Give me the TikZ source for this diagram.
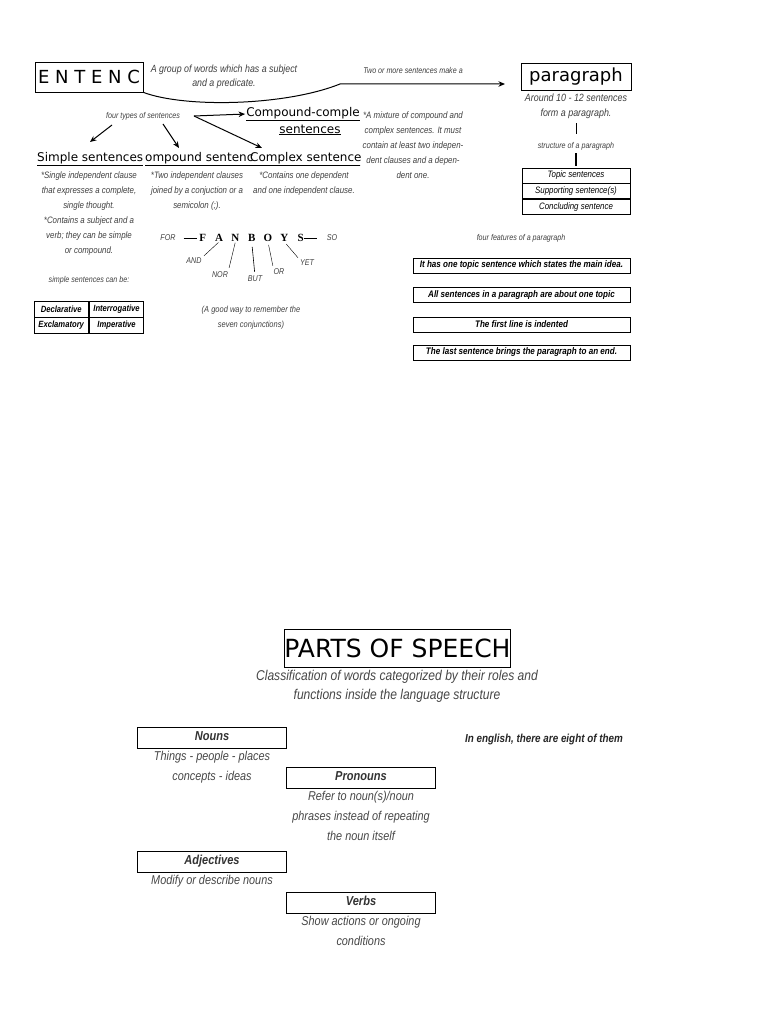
\documentclass[tikz,border=0pt]{standalone}
\usepackage{fontspec}
\setmainfont{Liberation Sans}
\newfontfamily\headfont{DejaVu Sans}
\newfontfamily\narrowfont[FakeStretch=0.85]{Liberation Sans}
\newfontfamily\fanfont{Liberation Serif}
\usetikzlibrary{positioning,arrows.meta}

\begin{document}
\begin{tikzpicture}[x=1pt,y=-1pt,
  every node/.style={inner sep=0pt},
  hbox/.style={draw,line width=.8pt},
  head/.style={font=\headfont\fontsize{18}{20}\selectfont},
  sub/.style={font=\headfont\fontsize{12}{16}\selectfont},
  note/.style={font=\narrowfont\itshape\fontsize{9.3}{15}\selectfont,text=black!75,align=center},
  tiny/.style={font=\narrowfont\itshape\fontsize{8.4}{9}\selectfont,text=black!75},
  cell/.style={draw,line width=.6pt,minimum width=108,minimum height=15,font=\narrowfont\itshape\fontsize{9.3}{10}\selectfont},
  kind/.style={draw,line width=.8pt,minimum width=54.5,minimum height=15.5,font=\narrowfont\bfseries\itshape\fontsize{9}{10}\selectfont},
  fan/.style={font=\fanfont\bfseries\fontsize{11}{10}\selectfont},
  feat/.style={draw,line width=.8pt,minimum width=217,minimum height=15,font=\narrowfont\bfseries\itshape\fontsize{9.5}{10}\selectfont},
  pbox/.style={draw,line width=.8pt,minimum width=149,minimum height=21,text depth=3pt,font=\narrowfont\bfseries\itshape\fontsize{13}{14}\selectfont,text=black!80},
  desc/.style={font=\narrowfont\itshape\fontsize{12.8}{20}\selectfont,text=black!72,align=center},
  arr/.style={-{Stealth[length=6.5pt,width=5.5pt]},line width=1pt}
]
\fill[white] (0,0) rectangle (768,1024);
\useasboundingbox (0,0) rectangle (768,1024);

% sentences and paragraph
\node[hbox,head,minimum width=108,minimum height=30] (sent) at (89,77) {E N T E N C};
\node[note,font=\narrowfont\itshape\fontsize{10.4}{14}\selectfont] (def) at (224,77) {A group of words which has a subject\\and a predicate.};
\node[tiny] (make) at (413,71) {Two or more sentences make a};
\node[hbox,head,minimum width=110,minimum height=27] (para) at (576,76.5) {paragraph};
\coordinate (paratip) at (505,84);
\draw[arr] (sent.south east) .. controls (185,108) and (285,106) .. (340,84) -- (paratip);

\node[note,font=\narrowfont\itshape\fontsize{10.5}{15}\selectfont] (around) at (576,106.5) {Around 10 - 12 sentences\\form a paragraph.};
\node[tiny] (struct) at (576,146) {structure of a paragraph};
\node[cell] (topic) at (576,175.5) {Topic sentences};
\node[cell,below=0pt of topic] (support) {Supporting sentence(s)};
\node[cell,below=0pt of support] (conclude) {Concluding sentence};
\draw[line width=.8pt,shorten <=4pt,shorten >=8pt] (around.south) -- (struct.north);
\draw[line width=1.6pt,shorten <=3pt,shorten >=2pt] (struct.south) -- (topic.north);

% four types
\node[tiny] (types) at (143,116) {four types of sentences};
\begin{scope}
\clip (30,100) rectangle (360,175);
\node[sub,anchor=west] (simple) at (37,159) {\underline{Simple sentences}};
\node[sub,anchor=west] (compound) at (145,159) {\underline{ompound sentenc}};
\node[sub,anchor=west] (complex) at (250,159) {\underline{Complex sentences}};
\node[sub] (cc) at (303,114) {\underline{Compound-comple}};
\end{scope}
\node[sub] (ccb) at (310,130) {\underline{sentences}};
\coordinate (t1) at (112,125);
\coordinate (t2) at (163,124);
\coordinate (t3) at (194,116);
\coordinate (s1) at (90,142);
\coordinate (s2) at (179,148);
\coordinate (s3) at (262,148);
\draw[arr] (t1) -- (s1);
\draw[arr] (t2) -- (s2);
\draw[arr] (t3) -- (s3);
\draw[arr,shorten >=1pt] (t3) -- (cc.west);

\node[note] (simpletxt) at (89,213.5) {*Single independent clause\\that expresses a complete,\\single thought.\\*Contains a subject and a\\verb; they can be simple\\or compound.};
\node[note] (cmptxt) at (197,191) {*Two independent clauses\\joined by a conjuction or a\\semicolon (;).};
\node[note] (cpxtxt) at (304,183.5) {*Contains one dependent\\and one independent clause.};
\node[note] (cctxt) at (413,145.5) {*A mixture of compound and\\complex sentences. It must\\contain at least two indepen-\\dent clauses and a depen-\\dent one.};

% kinds of simple sentences
\node[tiny] (canbe) at (89,280) {simple sentences can be:};
\node[kind] (decl) at (61.25,309.25) {Declarative};
\node[kind,right=0pt of decl] (inter) {Interrogative};
\node[kind,below=0pt of decl] (excl) {Exclamatory};
\node[kind,right=0pt of excl] (imper) {Imperative};

% fanboys
\node[tiny] (for) at (168,238) {FOR};
\foreach \l [count=\i] in {F,A,N,B,O,Y,S}
  \node[fan] (f\i) at (186.5+16.3*\i,238) {\l};
\node[tiny] (so) at (332,238) {SO};
\node[tiny] (and) at (194,261) {AND};
\node[tiny] (nor) at (220,275) {NOR};
\node[tiny] (but) at (255,279) {BUT};
\node[tiny] (or) at (279,272) {OR};
\node[tiny] (yet) at (307,263) {YET};
\draw[line width=.7pt,shorten <=8pt,shorten >=2pt] (for.east) -- (f1.west);
\draw[line width=.7pt,shorten >=10pt] (f7.east) -- (so.west);
\draw[line width=.4pt,shorten <=1pt,shorten >=3pt] (f2.south) -- (and.north east);
\draw[line width=.4pt,shorten <=1pt,shorten >=4pt] (f3.south) -- (nor.north east);
\draw[line width=.6pt,shorten <=5pt,shorten >=4pt] (f4.south) -- (but.north);
\draw[line width=.4pt,shorten <=3pt,shorten >=3pt] (f5.south) -- (or.north west);
\draw[line width=.4pt,shorten <=3pt,shorten >=3pt] (f6.south) -- (yet.north west);
\node[note,font=\narrowfont\itshape\fontsize{8.8}{15}\selectfont] (remember) at (251,317.5) {(A good way to remember the\\seven conjunctions)};

% features
\node[tiny] (features) at (521,238) {four features of a paragraph};
\node[feat] (feat1) at (521.5,265.5) {It has one topic sentence which states the main idea.};
\node[feat] (feat2) at (521.5,295) {All sentences in a paragraph are about one topic};
\node[feat] (feat3) at (521.5,324.5) {The first line is indented};
\node[feat] (feat4) at (521.5,352.5) {The last sentence brings the paragraph to an end.};

% parts of speech
\node[hbox,font=\headfont\fontsize{25}{28}\selectfont,minimum width=223,minimum height=38] (pos) at (397.5,648) {PARTS OF SPEECH};
\node[desc,font=\narrowfont\itshape\fontsize{14.2}{19}\selectfont] (classif) at (397,686.5) {Classification of words categorized by their roles and\\functions inside the language structure};
\node[font=\narrowfont\bfseries\itshape\fontsize{11.6}{12}\selectfont,text=black!85] (eight) at (544,739) {In english, there are eight of them};
\node[pbox] (nouns) at (212,737.5) {Nouns};
\node[desc,below=3pt of nouns] (nountxt) {Things - people - places\\concepts - ideas};
\node[pbox] (pron) at (361,777.5) {Pronouns};
\node[desc,below=3pt of pron] (prontxt) {Refer to noun(s)/noun\\phrases instead of repeating\\the noun itself};
\node[pbox] (adj) at (212,861.5) {Adjectives};
\node[desc,below=3pt of adj] (adjtxt) {Modify or describe nouns};
\node[pbox] (verbs) at (361,902.5) {Verbs};
\node[desc,below=3pt of verbs] (verbtxt) {Show actions or ongoing\\conditions};
\end{tikzpicture}
\end{document}
